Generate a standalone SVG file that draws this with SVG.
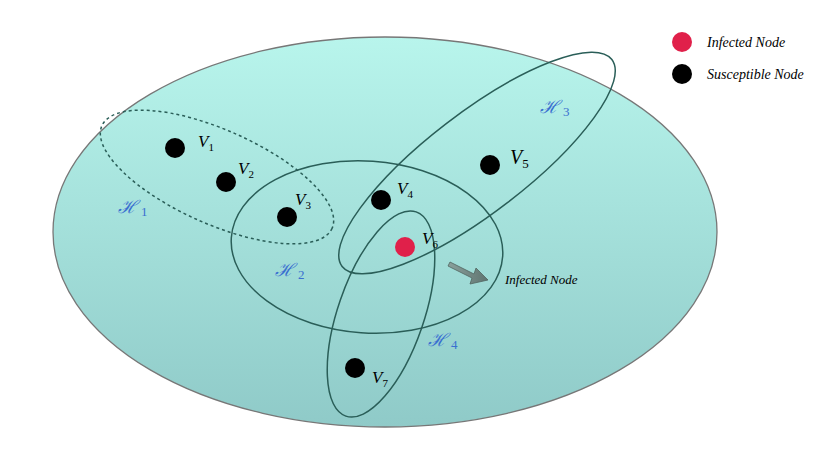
<svg xmlns="http://www.w3.org/2000/svg" width="830" height="467" viewBox="0 0 830 467">
<defs>
<linearGradient id="bg" x1="0" y1="0" x2="0" y2="1">
<stop offset="0" stop-color="#b8f5ec"/><stop offset="1" stop-color="#8fcac8"/>
</linearGradient>
<linearGradient id="ag" x1="0" y1="0" x2="1" y2="0">
<stop offset="0" stop-color="#8aa09c"/><stop offset="1" stop-color="#5f7470"/>
</linearGradient>
<style>
.e{fill:none;stroke:#2a5e58;stroke-width:1.5}
.n{fill:#000}
.lab{font-family:"Liberation Serif",serif;font-style:italic;font-size:17px;fill:#000}
.sub{font-size:11px;font-style:normal}
.h{font-family:"Liberation Serif",serif;font-style:italic;font-size:18px;fill:#3a6fd0}
.hs{font-size:13px;font-style:normal}
.lg{font-family:"Liberation Serif",serif;font-style:italic;font-size:14px;fill:#000}
</style>
</defs>
<ellipse cx="385" cy="232" rx="332" ry="195" fill="url(#bg)" stroke="#777" stroke-width="1.3"/>
<g id="connectors">
<ellipse class="e" cx="217" cy="177" rx="126" ry="47" transform="rotate(24 217 177)" stroke-dasharray="3,3"/>
<ellipse class="e" cx="367" cy="247" rx="136" ry="86" transform="rotate(4 367 247)"/>
<ellipse class="e" cx="477" cy="163" rx="170" ry="50" transform="rotate(-37.5 477 163)"/>
<ellipse class="e" cx="381" cy="314" rx="108" ry="43" transform="rotate(-71 381 314)"/>
<path d="M450 262 L474 274 L476 268 L488 280 L470 284 L472 278 L448 266 Z" fill="url(#ag)" stroke="#506560" stroke-width="0.8"/>
</g>
<g id="v1"><circle class="n" cx="175" cy="148" r="10"/><text class="lab" x="198" y="147">V<tspan class="sub" dy="4">1</tspan></text></g>
<g id="v2"><circle class="n" cx="226" cy="182" r="10"/><text class="lab" x="238" y="174">V<tspan class="sub" dy="4">2</tspan></text></g>
<g id="v3"><circle class="n" cx="287" cy="217" r="10"/><text class="lab" x="295" y="205">V<tspan class="sub" dy="4">3</tspan></text></g>
<g id="v4"><circle class="n" cx="381" cy="200" r="10"/><text class="lab" x="397" y="194">V<tspan class="sub" dy="4">4</tspan></text></g>
<g id="v5"><circle class="n" cx="490" cy="165" r="10"/><text class="lab" x="510" y="164" style="font-size:20px">V<tspan class="sub" dy="4" style="font-size:13px">5</tspan></text></g>
<g id="v6"><circle cx="405" cy="247" r="10" fill="#e0204a"/><text class="lab" x="422" y="244">V<tspan class="sub" dy="4">6</tspan></text></g>
<g id="v7"><circle class="n" cx="355" cy="368" r="10"/><text class="lab" x="372" y="383">V<tspan class="sub" dy="4">7</tspan></text></g>
<g id="h-labels">
<text class="h" x="118" y="213">ℋ<tspan class="hs" dx="4" dy="3">1</tspan></text>
<text class="h" x="275" y="276">ℋ<tspan class="hs" dx="4" dy="3">2</tspan></text>
<text class="h" x="540" y="113">ℋ<tspan class="hs" dx="4" dy="3">3</tspan></text>
<text class="h" x="428" y="346">ℋ<tspan class="hs" dx="4" dy="3">4</tspan></text>
</g>
<text class="lg" x="505" y="284" style="font-size:13px">Infected Node</text>
<g id="legend">
<circle cx="682" cy="42" r="10" fill="#e0204a"/><text class="lg" x="707" y="47">Infected Node</text>
<circle class="n" cx="682" cy="74" r="10"/><text class="lg" x="707" y="79">Susceptible Node</text>
</g>
</svg>
